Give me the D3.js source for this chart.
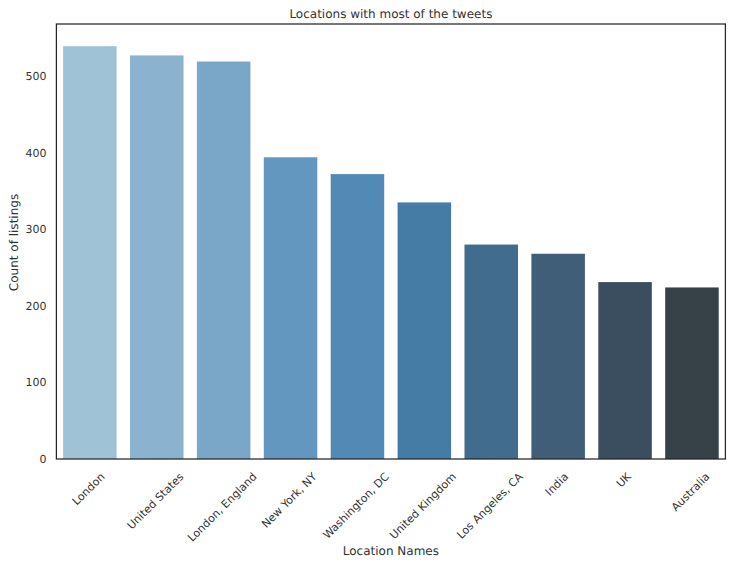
<!DOCTYPE html>
<html><head><meta charset="utf-8">
<script src="https://cdn.jsdelivr.net/npm/d3@7"></script>
<style>html,body{margin:0;padding:0;background:#fff}svg{display:block;text-rendering:geometricPrecision}text{font-family:"DejaVu Sans",sans-serif;fill:#333}</style>
</head><body><div id="c"></div>
<script>
const categories=["London","United States","London, England","New York, NY","Washington, DC","United Kingdom","Los Angeles, CA","India","UK","Australia"];
const counts=[539,527,519,394,372,335,280,268,231,224];
const colors=["#9fc2d7","#8bb3cf","#7aa7c7","#6497c0","#5289b5","#457ca6","#416c8d","#405e78","#3b4e60","#374248"];
const yTicks=[0,100,200,300,400,500];
const W=748,H=563,m={l:56.4,r:725.4,t:24,b:459};
const svg=d3.select("#c").append("svg").attr("width",W).attr("height",H);
const x=d3.scaleBand().domain(categories).range([m.l,m.r]).paddingInner(0.2).paddingOuter(0.1);
const y=d3.scaleLinear().domain([0,568]).range([m.b,m.t]);
svg.append("g").selectAll("rect").data(categories).join("rect")
 .attr("x",d=>x(d)).attr("width",x.bandwidth())
 .attr("y",(d,i)=>y(counts[i])).attr("height",(d,i)=>m.b-y(counts[i]))
 .attr("fill",(d,i)=>colors[i]);
const gy=svg.append("g").attr("transform",`translate(${m.l},0)`).call(d3.axisLeft(y).tickValues(yTicks).tickSize(0).tickPadding(10));
gy.select(".domain").remove();
gy.selectAll("text").attr("font-size",11).attr("font-family","DejaVu Sans").style("fill","#333");
const gx=svg.append("g").attr("transform",`translate(0,${m.b})`).call(d3.axisBottom(x).tickSize(0));
gx.select(".domain").remove();
gx.selectAll("text").attr("font-size",11).attr("font-family","DejaVu Sans").style("fill","#333")
 .attr("text-anchor","middle").attr("y",0).attr("x",0).attr("dy","0.35em")
 .attr("transform",function(){
   const half=(this.getComputedTextLength()+13)*Math.SQRT1_2/2;
   return `translate(-1.5,${11+half}) rotate(-45)`;
 });
svg.append("rect").attr("x",m.l).attr("y",m.t).attr("width",m.r-m.l).attr("height",m.b-m.t)
 .attr("fill","none").attr("stroke","#262626").attr("stroke-width",1.25);
svg.append("text").attr("x",(m.l+m.r)/2).attr("y",18).attr("text-anchor","middle").attr("font-size",12).text("Locations with most of the tweets");
svg.append("text").attr("x",(m.l+m.r)/2).attr("y",555).attr("text-anchor","middle").attr("font-size",12).text("Location Names");
svg.append("text").attr("transform",`translate(18,${(m.t+m.b)/2+1}) rotate(-90)`).attr("text-anchor","middle").attr("font-size",12).text("Count of listings");
</script></body></html>
